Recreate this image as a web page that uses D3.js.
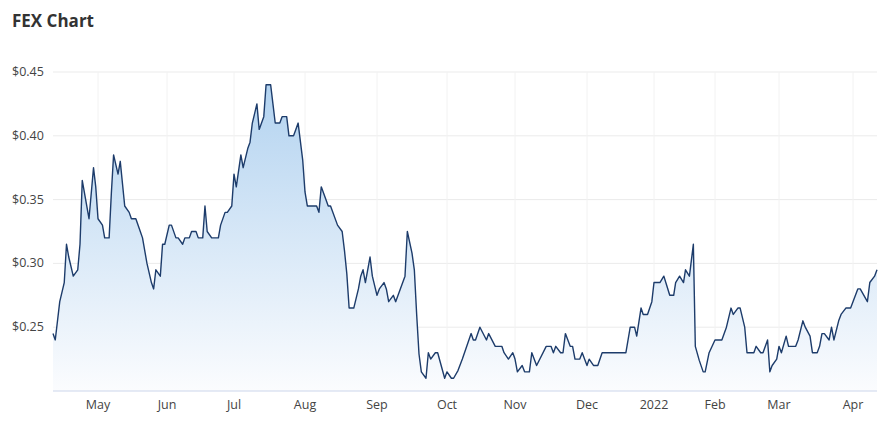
<!DOCTYPE html>
<html>
<head>
<meta charset="utf-8">
<script src="https://cdn.jsdelivr.net/npm/d3@7"></script>
<style>
  body { margin: 0; background: #fff; font-family: "Open Sans", "Liberation Sans", sans-serif; }
</style>
</head>
<body>
<svg></svg>
<script>
const width = 894, height = 427;

// FEX daily close
const dates = [
  "2021-04-11","2021-04-12","2021-04-14","2021-04-16","2021-04-17","2021-04-18","2021-04-20","2021-04-22","2021-04-23","2021-04-24",
  "2021-04-26","2021-04-27","2021-04-29","2021-04-30","2021-05-01","2021-05-03","2021-05-04","2021-05-06","2021-05-07","2021-05-08",
  "2021-05-10","2021-05-11","2021-05-13","2021-05-15","2021-05-16","2021-05-18","2021-05-20","2021-05-21","2021-05-23","2021-05-25",
  "2021-05-26","2021-05-27","2021-05-29","2021-05-30","2021-05-31","2021-06-02","2021-06-03","2021-06-05","2021-06-06","2021-06-08",
  "2021-06-09","2021-06-11","2021-06-12","2021-06-14","2021-06-15","2021-06-17","2021-06-18","2021-06-19","2021-06-21","2021-06-24",
  "2021-06-25","2021-06-27","2021-06-28","2021-06-30","2021-07-01","2021-07-02","2021-07-04","2021-07-05","2021-07-07","2021-07-08",
  "2021-07-09","2021-07-11","2021-07-12","2021-07-14","2021-07-15","2021-07-17","2021-07-18","2021-07-19","2021-07-21","2021-07-22",
  "2021-07-24","2021-07-25","2021-07-27","2021-07-28","2021-07-29","2021-07-31","2021-08-01","2021-08-02","2021-08-06","2021-08-07",
  "2021-08-08","2021-08-10","2021-08-11","2021-08-12","2021-08-15","2021-08-17","2021-08-18","2021-08-19","2021-08-20","2021-08-22",
  "2021-08-24","2021-08-25","2021-08-26","2021-08-27","2021-08-29","2021-08-30","2021-09-01","2021-09-02","2021-09-04","2021-09-05",
  "2021-09-06","2021-09-08","2021-09-09","2021-09-11","2021-09-13","2021-09-14","2021-09-16","2021-09-17","2021-09-18","2021-09-19",
  "2021-09-20","2021-09-22","2021-09-23","2021-09-24","2021-09-26","2021-09-27","2021-09-30","2021-10-01","2021-10-03","2021-10-04",
  "2021-10-06","2021-10-08","2021-10-10","2021-10-12","2021-10-13","2021-10-14","2021-10-16","2021-10-19","2021-10-20","2021-10-23",
  "2021-10-26","2021-10-27","2021-10-29","2021-10-31","2021-11-01","2021-11-02","2021-11-04","2021-11-05","2021-11-07","2021-11-08",
  "2021-11-10","2021-11-14","2021-11-16","2021-11-17","2021-11-18","2021-11-20","2021-11-21","2021-11-22","2021-11-24","2021-11-25",
  "2021-11-26","2021-11-28","2021-11-29","2021-12-01","2021-12-02","2021-12-04","2021-12-06","2021-12-08","2021-12-19","2021-12-21",
  "2021-12-23","2021-12-24","2021-12-26","2021-12-27","2021-12-29","2021-12-31","2022-01-01","2022-01-04","2022-01-06","2022-01-07",
  "2022-01-09","2022-01-11","2022-01-12","2022-01-14","2022-01-16","2022-01-17","2022-01-19","2022-01-21","2022-01-22","2022-01-24",
  "2022-01-26","2022-01-27","2022-01-29","2022-02-01","2022-02-04","2022-02-06","2022-02-08","2022-02-09","2022-02-11","2022-02-12",
  "2022-02-14","2022-02-15","2022-02-18","2022-02-19","2022-02-21","2022-02-22","2022-02-24","2022-02-25","2022-02-26","2022-02-28",
  "2022-03-01","2022-03-02","2022-03-04","2022-03-05","2022-03-08","2022-03-09","2022-03-11","2022-03-12","2022-03-14","2022-03-15",
  "2022-03-17","2022-03-18","2022-03-19","2022-03-20","2022-03-22","2022-03-23","2022-03-24","2022-03-26","2022-03-27","2022-03-29",
  "2022-03-31","2022-04-01","2022-04-03","2022-04-04","2022-04-07","2022-04-08","2022-04-10","2022-04-11"
];
const prices = [
  0.245,0.240,0.270,0.285,0.315,0.305,0.290,0.295,0.315,0.365,
  0.345,0.335,0.375,0.360,0.335,0.330,0.320,0.320,0.355,0.385,
  0.370,0.380,0.345,0.340,0.335,0.335,0.325,0.320,0.300,0.285,
  0.280,0.295,0.290,0.315,0.315,0.330,0.330,0.320,0.320,0.315,
  0.320,0.320,0.325,0.325,0.320,0.320,0.345,0.325,0.320,0.320,
  0.330,0.340,0.340,0.345,0.370,0.360,0.385,0.375,0.390,0.395,
  0.410,0.425,0.405,0.415,0.440,0.440,0.425,0.410,0.410,0.415,
  0.415,0.400,0.400,0.405,0.410,0.381,0.356,0.345,0.345,0.340,
  0.360,0.350,0.345,0.345,0.330,0.325,0.310,0.292,0.265,0.265,
  0.280,0.290,0.295,0.285,0.305,0.290,0.275,0.280,0.285,0.280,
  0.270,0.275,0.270,0.280,0.290,0.325,0.308,0.295,0.260,0.229,
  0.215,0.210,0.230,0.225,0.230,0.230,0.210,0.215,0.210,0.210,
  0.216,0.225,0.235,0.245,0.240,0.240,0.250,0.240,0.245,0.235,
  0.235,0.230,0.225,0.230,0.225,0.215,0.220,0.215,0.215,0.230,
  0.220,0.235,0.235,0.230,0.235,0.230,0.230,0.245,0.235,0.235,
  0.225,0.225,0.230,0.220,0.225,0.220,0.220,0.230,0.230,0.250,
  0.250,0.243,0.265,0.260,0.260,0.270,0.285,0.285,0.290,0.285,
  0.275,0.275,0.285,0.290,0.285,0.295,0.290,0.315,0.235,0.224,
  0.215,0.215,0.230,0.240,0.240,0.250,0.265,0.260,0.265,0.265,
  0.250,0.230,0.230,0.235,0.230,0.230,0.240,0.215,0.220,0.225,
  0.235,0.230,0.243,0.235,0.235,0.240,0.255,0.250,0.243,0.230,
  0.230,0.235,0.245,0.245,0.240,0.250,0.240,0.255,0.260,0.265,
  0.265,0.270,0.280,0.280,0.270,0.285,0.290,0.295
];
const yTicks = [0.25, 0.30, 0.35, 0.40, 0.45];
const monthTicks = ["2021-05-01","2021-06-01","2021-07-01","2021-08-01","2021-09-01","2021-10-01",
  "2021-11-01","2021-12-01","2022-01-01","2022-02-01","2022-03-01","2022-04-01"];

const parse = d3.timeParse("%Y-%m-%d");
const data = dates.map((d, i) => ({ date: parse(d), value: prices[i] }));
const tickDates = monthTicks.map(parse);

const plotLeft = 53, plotRight = 877, plotTop = 72, plotBottom = 391;

// the source axis spaces months unevenly (trading days), so use a piecewise time scale
const monthPx = [98, 167, 234, 305, 377, 447, 515, 587, 654, 715, 779, 853];
const x = d3.scaleTime()
  .domain([data[0].date, ...tickDates, data[data.length - 1].date])
  .range([plotLeft, ...monthPx, plotRight]);

const y = d3.scaleLinear().domain([0.20, 0.45]).range([plotBottom, plotTop]);

const svg = d3.select("svg").attr("width", width).attr("height", height);

const grad = svg.append("defs").append("linearGradient")
  .attr("id", "fill")
  .attr("gradientUnits", "userSpaceOnUse")
  .attr("x1", 0).attr("x2", 0)
  .attr("y1", y(0.44)).attr("y2", plotBottom);
grad.append("stop").attr("offset", 0).attr("stop-color", "#b3d3f0");
grad.append("stop").attr("offset", 1).attr("stop-color", "#fbfcfe");

svg.append("text")
  .attr("x", 12).attr("y", 27)
  .attr("font-size", 17).attr("font-weight", "bold").attr("fill", "#333")
  .text("FEX Chart");

// grid
svg.append("g").selectAll("line").data(yTicks).join("line")
  .attr("x1", plotLeft).attr("x2", plotRight)
  .attr("y1", d => y(d)).attr("y2", d => y(d))
  .attr("stroke", "#ebebeb");
svg.append("g").selectAll("line").data(tickDates).join("line")
  .attr("x1", d => x(d)).attr("x2", d => x(d))
  .attr("y1", plotTop).attr("y2", plotBottom)
  .attr("stroke", "#f2f2f2");

svg.append("g").selectAll("text").data(yTicks).join("text")
  .attr("x", 12).attr("y", d => y(d) + 4)
  .attr("font-size", 12.5).attr("fill", "#444")
  .text(d => "$" + d.toFixed(2));

const fmt = d => d.getMonth() === 0 ? d3.timeFormat("%Y")(d) : d3.timeFormat("%b")(d);
svg.append("g").selectAll("text").data(tickDates).join("text")
  .attr("x", d => x(d)).attr("y", 409)
  .attr("text-anchor", "middle")
  .attr("font-size", 12.5).attr("fill", "#444")
  .text(fmt);

svg.append("path").datum(data)
  .attr("fill", "url(#fill)")
  .attr("d", d3.area().x(d => x(d.date)).y0(plotBottom).y1(d => y(d.value)));

svg.append("path").datum(data)
  .attr("fill", "none").attr("stroke", "#1d3c6b").attr("stroke-width", 1.4)
  .attr("stroke-linejoin", "round")
  .attr("d", d3.line().x(d => x(d.date)).y(d => y(d.value)));

svg.append("line")
  .attr("x1", plotLeft).attr("x2", plotRight).attr("y1", plotBottom).attr("y2", plotBottom)
  .attr("stroke", "#ccd6eb");
</script>
</body>
</html>
